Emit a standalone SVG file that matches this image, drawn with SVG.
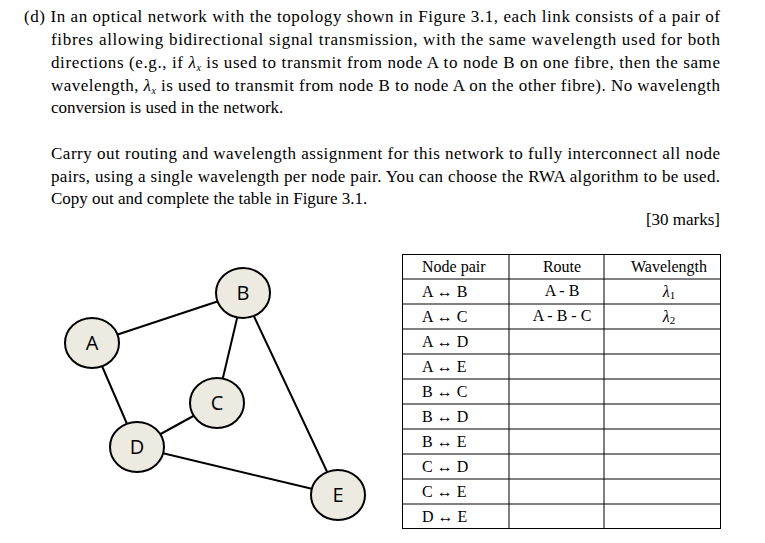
<svg xmlns="http://www.w3.org/2000/svg" width="765" height="543" viewBox="0 0 765 543">
<style>
text{font-family:"Liberation Serif","Times New Roman",serif;fill:#000}
.p{font-size:17px}
.t{font-size:16px}
.n ellipse{fill:#edebe1;stroke:#000;stroke-width:2}
.n text{font-family:"Open Sans","Liberation Sans",sans-serif;font-size:20px;text-anchor:middle}
.e line{stroke:#000;stroke-width:2}
.g line{stroke:#000;stroke-width:1}
.c{text-anchor:middle}
</style>
<rect width="765" height="543" fill="#fff"/>
<g class="p">
<text x="24" y="22" textLength="696" lengthAdjust="spacing">(d) In an optical network with the topology shown in Figure 3.1, each link consists of a pair of</text>
<text x="51" y="45" textLength="669" lengthAdjust="spacing">fibres allowing bidirectional signal transmission, with the same wavelength used for both</text>
<text x="51" y="68" textLength="669" lengthAdjust="spacing">directions (e.g., if  <tspan font-style="italic">λ<tspan font-size="10" dy="3">x</tspan></tspan><tspan dy="-3"> is used to transmit from node A to node B on one fibre, then the same</tspan></text>
<text x="51" y="91" textLength="669" lengthAdjust="spacing">wavelength,  <tspan font-style="italic">λ<tspan font-size="10" dy="3">x</tspan></tspan><tspan dy="-3"> is used to transmit from node B to node A on the other fibre). No wavelength</tspan></text>
<text x="51" y="113">conversion is used in the network.</text>
<text x="51" y="159" textLength="669" lengthAdjust="spacing">Carry out routing and wavelength assignment for this network to fully interconnect all node</text>
<text x="51" y="182" textLength="669" lengthAdjust="spacing">pairs, using a single wavelength per node pair. You can choose the RWA algorithm to be used.</text>
<text x="51" y="204">Copy out and complete the table in Figure 3.1.</text>
<text x="720" y="225" text-anchor="end">[30 marks]</text>
</g>
<g id="edges" class="e">
<line x1="92" y1="343" x2="243" y2="293"/>
<line x1="92" y1="343" x2="137" y2="447"/>
<line x1="243" y1="293" x2="217" y2="403"/>
<line x1="243" y1="293" x2="338" y2="495"/>
<line x1="217" y1="403" x2="137" y2="447"/>
<line x1="137" y1="447" x2="338" y2="495"/>
</g>
<g id="A" class="n"><ellipse cx="92" cy="343" rx="27" ry="25"/><text x="92" y="350">A</text></g>
<g id="B" class="n"><ellipse cx="243" cy="293" rx="27" ry="25"/><text x="243" y="300">B</text></g>
<g id="C" class="n"><ellipse cx="217" cy="403" rx="27" ry="25"/><text x="217" y="410">C</text></g>
<g id="D" class="n"><ellipse cx="137" cy="447" rx="27" ry="25"/><text x="137" y="454">D</text></g>
<g id="E" class="n"><ellipse cx="338" cy="495" rx="27" ry="25"/><text x="338" y="502">E</text></g>
<g id="table" class="g">
<rect x="402.5" y="254.5" width="318" height="274" fill="none" stroke="#000"/>
<line x1="509" y1="254" x2="509" y2="529"/><line x1="604" y1="254" x2="604" y2="529"/>
<line x1="402" y1="279" x2="721" y2="279"/><line x1="402" y1="304" x2="721" y2="304"/>
<line x1="402" y1="329" x2="721" y2="329"/><line x1="402" y1="354" x2="721" y2="354"/>
<line x1="402" y1="379" x2="721" y2="379"/><line x1="402" y1="404" x2="721" y2="404"/>
<line x1="402" y1="429" x2="721" y2="429"/><line x1="402" y1="454" x2="721" y2="454"/>
<line x1="402" y1="479" x2="721" y2="479"/><line x1="402" y1="504" x2="721" y2="504"/>
</g>
<g class="t">
<text x="422" y="272">Node pair</text><text x="562" y="272" class="c">Route</text><text x="669" y="272" class="c">Wavelength</text>
<text x="422" y="297">A ↔ B</text><text x="562" y="296" class="c">A - B</text><text x="669" y="297" class="c" font-style="italic">λ<tspan font-style="normal" font-size="11" dy="2">1</tspan></text>
<text x="422" y="322">A ↔ C</text><text x="562" y="321" class="c">A - B - C</text><text x="669" y="322" class="c" font-style="italic">λ<tspan font-style="normal" font-size="11" dy="2">2</tspan></text>
<text x="422" y="347">A ↔ D</text>
<text x="422" y="372">A ↔ E</text>
<text x="422" y="397">B ↔ C</text>
<text x="422" y="422">B ↔ D</text>
<text x="422" y="447">B ↔ E</text>
<text x="422" y="472">C ↔ D</text>
<text x="422" y="497">C ↔ E</text>
<text x="422" y="522">D ↔ E</text>
</g>
</svg>
